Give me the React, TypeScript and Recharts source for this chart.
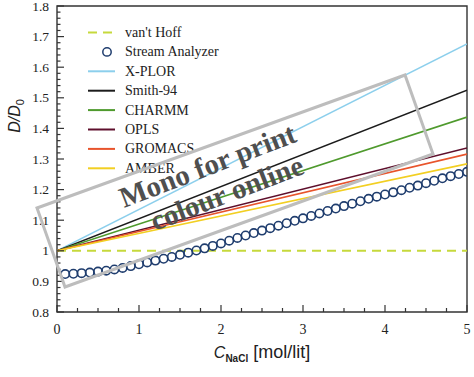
import React from 'react';
import { ComposedChart, Line, Scatter, XAxis, YAxis, ReferenceArea, Legend } from 'recharts';

// ---- data ----
const concentration = [0, 5];
const vantHoff = [1, 1];
const xplor = [1, 1.676];
const smith94 = [1, 1.525];
const charmm = [1, 1.437];
const opls = [1, 1.336];
const gromacs = [1, 1.316];
const amber = [1, 1.284];

const streamConcentration = [
  0.1, 0.2, 0.3, 0.4, 0.5, 0.6, 0.7, 0.8, 0.9, 1.0,
  1.1, 1.2, 1.3, 1.4, 1.5, 1.6, 1.7, 1.8, 1.9, 2.0,
  2.1, 2.2, 2.3, 2.4, 2.5, 2.6, 2.7, 2.8, 2.9, 3.0,
  3.1, 3.2, 3.3, 3.4, 3.5, 3.6, 3.7, 3.8, 3.9, 4.0,
  4.1, 4.2, 4.3, 4.4, 4.5, 4.6, 4.7, 4.8, 4.9, 5.0,
];
const streamAnalyzer = [
  0.924, 0.925, 0.927, 0.929, 0.932, 0.935, 0.939, 0.944, 0.95, 0.956,
  0.962, 0.968, 0.974, 0.98, 0.987, 0.994, 1.001, 1.008, 1.016, 1.024,
  1.033, 1.042, 1.05, 1.058, 1.066, 1.074, 1.082, 1.09, 1.098, 1.106,
  1.114, 1.122, 1.13, 1.138, 1.146, 1.154, 1.162, 1.17, 1.177, 1.184,
  1.191, 1.198, 1.206, 1.213, 1.221, 1.229, 1.237, 1.244, 1.251, 1.258,
];

const xMajorTicks = [0, 1, 2, 3, 4, 5];
const xTickLabels = ['0', '1', '2', '3', '4', '5'];
const yMajorTicks = [0.8, 0.9, 1.0, 1.1, 1.2, 1.3, 1.4, 1.5, 1.6, 1.7, 1.8];
const yTickLabels = ['0.8', '0.9', '1', '1.1', '1.2', '1.3', '1.4', '1.5', '1.6', '1.7', '1.8'];

const xAllTicks = Array.from({ length: 21 }, (_, i) => i * 0.25);
const yAllTicks = Array.from({ length: 51 }, (_, i) => Math.round(80 + i * 2) / 100);

const series = [
  { name: "van't Hoff", values: vantHoff, color: '#c6d93c', dash: '9 6', kind: 'line' },
  { name: 'Stream Analyzer', values: null, color: '#1f3d6e', dash: undefined, kind: 'circle' },
  { name: 'X-PLOR', values: xplor, color: '#8ccfec', dash: undefined, kind: 'line' },
  { name: 'Smith-94', values: smith94, color: '#1c1c1c', dash: undefined, kind: 'line' },
  { name: 'CHARMM', values: charmm, color: '#4f9a2d', dash: undefined, kind: 'line' },
  { name: 'OPLS', values: opls, color: '#5e0f2c', dash: undefined, kind: 'line' },
  { name: 'GROMACS', values: gromacs, color: '#e8542c', dash: undefined, kind: 'line' },
  { name: 'AMBER', values: amber, color: '#f2cf22', dash: undefined, kind: 'line' },
];

const toPoints = (xs: number[], ys: number[]) => xs.map((x, i) => ({ x, y: ys[i] }));
const streamData = toPoints(streamConcentration, streamAnalyzer);

const AXIS = '#333';
const SERIF = '"Liberation Serif", "Times New Roman", serif';
const SANS = '"Liberation Sans", Arial, sans-serif';

const XTick = (props: any) => {
  const { x, y, payload } = props;
  const idx = xMajorTicks.findIndex((t) => Math.abs(t - payload.value) < 1e-6);
  const major = idx >= 0;
  return (
    <g>
      <line x1={x} x2={x} y1={y} y2={y - (major ? 7 : 4)} stroke={AXIS} strokeWidth={1.2} />
      {major && (
        <text x={x} y={y + 22} textAnchor="middle" fontFamily={SERIF} fontSize={14} fill="#222">
          {xTickLabels[idx]}
        </text>
      )}
    </g>
  );
};

const YTick = (props: any) => {
  const { x, y, payload } = props;
  const idx = yMajorTicks.findIndex((t) => Math.abs(t - payload.value) < 1e-6);
  const major = idx >= 0;
  return (
    <g>
      <line x1={x} x2={x + (major ? 7 : 3.5)} y1={y} y2={y} stroke={AXIS} strokeWidth={1.2} />
      {major && (
        <text x={x - 8} y={y + 4.5} textAnchor="end" fontFamily={SERIF} fontSize={13.5} fill="#222">
          {yTickLabels[idx]}
        </text>
      )}
    </g>
  );
};

const XLabel = (props: any) => {
  const vb = props.viewBox || { x: 57, y: 312, width: 410, height: 65 };
  const cx = vb.x + vb.width / 2;
  return (
    <text x={cx} y={vb.y + 46} textAnchor="middle" fontFamily={SANS} fill="#222">
      <tspan fontStyle="italic" fontSize={16}>C</tspan>
      <tspan fontSize={10} fontWeight="bold" dy={4}>NaCl</tspan>
      <tspan fontSize={18} dy={-4} dx={5}>[mol/lit]</tspan>
    </text>
  );
};

const YLabel = () => {
  const x = 20;
  const y = 116;
  return (
    <text x={x} y={y} transform={`rotate(-90, ${x}, ${y})`} textAnchor="middle" fontFamily={SANS} fill="#222">
      <tspan fontStyle="italic" fontSize={16}>D/D</tspan>
      <tspan fontSize={11} dy={4}>0</tspan>
    </text>
  );
};

const LegendContent = () => (
  <svg width={160} height={165} style={{ display: 'block' }}>
    {series.map((s, i) => {
      const cy = 12.5 + i * 19.4;
      return (
        <g key={s.name}>
          {s.kind === 'circle' ? (
            <circle cx={27} cy={cy} r={4.2} fill="none" stroke={s.color} strokeWidth={1.5} />
          ) : (
            <line x1={8} x2={35} y1={cy} y2={cy} stroke={s.color} strokeWidth={2} strokeDasharray={s.dash} />
          )}
          <text x={45} y={cy + 4.5} fontFamily={SERIF} fontSize={14} fill="#222">
            {s.name}
          </text>
        </g>
      );
    })}
  </svg>
);

const StreamDot = (props: any) => (
  <circle cx={props.cx} cy={props.cy} r={4.2} fill="none" stroke="#1f3d6e" strokeWidth={1.6} />
);

const Watermark = () => (
  <svg width={474} height={377} style={{ position: 'absolute', left: 0, top: 0, pointerEvents: 'none' }}>
    <polygon points="37,208 405,75 433,154 65,287" fill="none" stroke="#bdbdbd" strokeWidth={3} />
    <g fontFamily={SERIF} fontWeight="bold" fontSize={29} fill="#4f4f4f">
      <text x={124} y={208} transform="rotate(-21, 124, 208)">Mono for print</text>
      <text x={155} y={231} transform="rotate(-21, 155, 231)">colour online</text>
    </g>
  </svg>
);

export default function App() {
  return (
    <div style={{ position: 'absolute', left: 0, top: 0, width: 474, height: 377, background: '#fff' }}>
      <ComposedChart width={474} height={377} margin={{ top: 6, right: 7, bottom: 0, left: 0 }}>
        <XAxis
          dataKey="x"
          type="number"
          domain={[0, 5]}
          ticks={xAllTicks}
          interval={0}
          allowDataOverflow
          axisLine={false}
          tickLine={false}
          tickSize={0}
          tickMargin={0}
          tick={<XTick />}
          height={65}
          label={<XLabel />}
        />
        <YAxis
          type="number"
          domain={[0.8, 1.8]}
          ticks={yAllTicks}
          interval={0}
          allowDataOverflow
          axisLine={false}
          tickLine={false}
          tickSize={0}
          tickMargin={0}
          tick={<YTick />}
          width={57}
          label={<YLabel />}
        />
        <Legend
          layout="vertical"
          align="center"
          verticalAlign="middle"
          wrapperStyle={{ position: 'absolute', left: 80, top: 20, width: 160, height: 165 }}
          content={() => <LegendContent />}
        />
        {series
          .filter((s) => s.kind === 'line')
          .map((s) => (
            <Line
              key={s.name}
              name={s.name}
              data={toPoints(concentration, s.values as number[])}
              dataKey="y"
              type="linear"
              stroke={s.color}
              strokeWidth={s.dash ? 2 : 1.6}
              strokeDasharray={s.dash}
              dot={false}
              activeDot={false}
              isAnimationActive={false}
            />
          ))}
        <Scatter name="Stream Analyzer" data={streamData} dataKey="y" shape={<StreamDot />} isAnimationActive={false} />
        <ReferenceArea x1={0} x2={5} y1={0.8} y2={1.8} fill="none" stroke={AXIS} strokeWidth={1.4} ifOverflow="visible" />
      </ComposedChart>
      <Watermark />
    </div>
  );
}
